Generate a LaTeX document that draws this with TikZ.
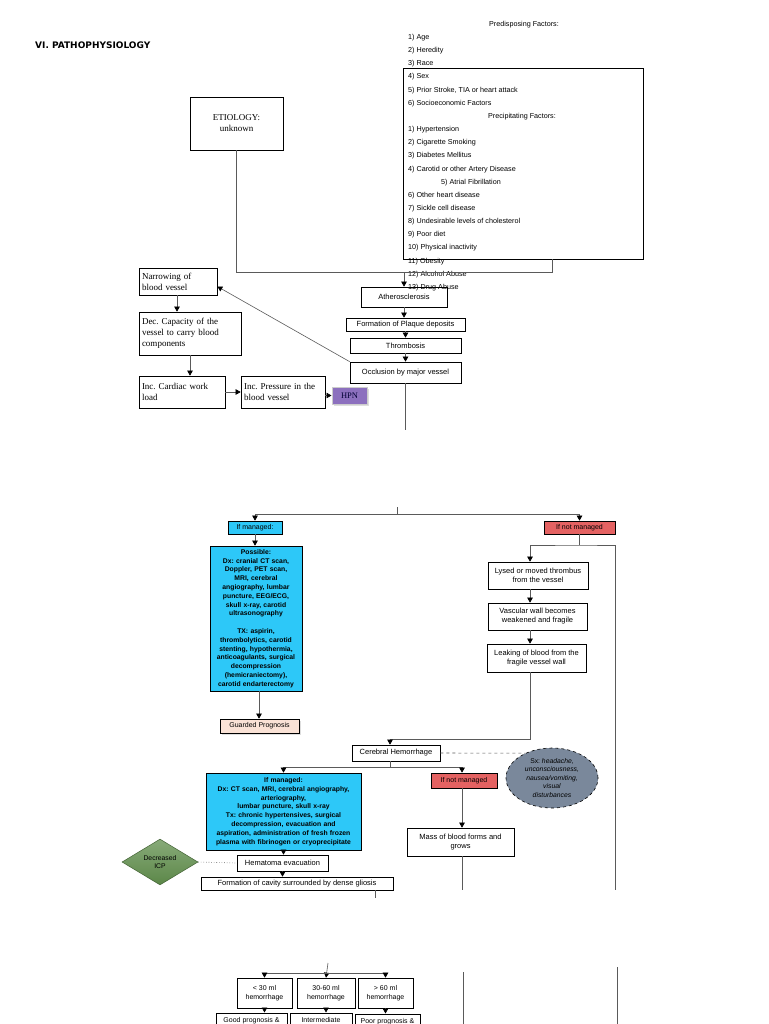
\documentclass[tikz,border=0pt]{standalone}
\usepackage{fontspec}
\setmainfont{Liberation Sans}
\newfontfamily\serifA{Liberation Serif}
\newfontfamily\titlefont{DejaVu Sans}
\usetikzlibrary{arrows.meta,shapes.geometric,shadows}
\definecolor{cyanbox}{RGB}{45,200,248}
\definecolor{redbox}{RGB}{228,98,98}
\definecolor{pinkbox}{RGB}{250,226,214}
\definecolor{sxcol}{RGB}{122,136,155}
\definecolor{dgreen}{RGB}{96,142,76}
\definecolor{hpncol}{RGB}{140,112,190}
\definecolor{lgray}{RGB}{90,90,90}
\frenchspacing
\begin{document}
\begin{tikzpicture}[x=1pt,y=-1pt,
  sbox/.style={draw, line width=0.7pt, inner sep=1pt, align=center, font=\fontsize{7.5}{9}\selectfont},
  tbox/.style={draw, line width=0.7pt, inner sep=3pt, align=left, font=\serifA\fontsize{9}{11}\selectfont},
  lst/.style={anchor=west, inner sep=0pt, font=\fontsize{7.2}{8}\selectfont},
  cline/.style={draw=lgray, line width=0.6pt},
  arr/.style={-{Triangle[width=5.5pt,length=5pt,color=black]}},
  cyanstyle/.style={draw, line width=0.7pt, fill=cyanbox, align=center, inner sep=1pt, font=\bfseries\itshape\fontsize{6.8}{8.8}\selectfont},
  shad/.style={drop shadow={shadow xshift=1.5pt, shadow yshift=-1.5pt, fill=gray!50}}
]
\useasboundingbox (0,0) rectangle (768,1024);
\clip (0,0) rectangle (768,1024);
\fill[white] (0,0) rectangle (768,1024);

% title
\node[anchor=west, inner sep=0pt, font=\titlefont\bfseries\fontsize{9}{10}\selectfont] (title) at (35,45) {VI. PATHOPHYSIOLOGY};

% factors rectangle and list
\node[draw, line width=0.7pt, minimum width=240pt, minimum height=191pt, inner sep=0pt] (fac) at (523,163.5) {};
\node[lst, anchor=center] (p0) at (524,24.5) {Predisposing Factors:};
\node[lst] (p1) at (408,37.65) {1) Age};
\node[lst] (p2) at (408,50.8) {2) Heredity};
\node[lst] (p3) at (408,63.95) {3) Race};
\node[lst] (p4) at (408,77.1) {4) Sex};
\node[lst] (p5) at (408,90.25) {5) Prior Stroke, TIA or heart attack};
\node[lst] (p6) at (408,103.4) {6) Socioeconomic Factors};
\node[lst, anchor=center] (q0) at (522,116.55) {Precipitating Factors:};
\node[lst] (q1) at (408,129.7) {1) Hypertension};
\node[lst] (q2) at (408,142.85) {2) Cigarette Smoking};
\node[lst] (q3) at (408,156.0) {3) Diabetes Mellitus};
\node[lst] (q4) at (408,169.15) {4) Carotid or other Artery Disease};
\node[lst] (q5) at (441,182.3) {5) Atrial Fibrillation};
\node[lst] (q6) at (408,195.45) {6) Other heart disease};
\node[lst] (q7) at (408,208.6) {7) Sickle cell disease};
\node[lst] (q8) at (408,221.75) {8) Undesirable levels of cholesterol};
\node[lst] (q9) at (408,234.9) {9) Poor diet};
\node[lst] (q10) at (408,248.05) {10) Physical inactivity};
\node[lst] (q11) at (408,261.2) {11) Obesity};
\node[lst] (q12) at (408,274.35) {12) Alcohol Abuse};
\node[lst] (q13) at (408,287.5) {13) Drug Abuse};

% etiology
\node[tbox, align=center, minimum width=93pt, minimum height=53pt] (etio) at (236.5,123.5) {ETIOLOGY:\\unknown};

% central chain
\node[sbox, minimum width=86pt, minimum height=20pt] (ath) at (404,297) {Atherosclerosis};
\node[sbox, minimum width=119pt, minimum height=13pt] (plaque) at (405.5,324.5) {Formation of Plaque deposits};
\node[sbox, minimum width=111pt, minimum height=15pt] (thromb) at (405.5,345.5) {Thrombosis};
\node[sbox, minimum width=111pt, minimum height=21pt] (occl) at (405.5,372.5) {Occlusion by major vessel};

% left chain
\node[tbox, text width=72pt, minimum height=27pt] (narrow) at (178,281.5) {Narrowing of\\blood vessel};
\node[tbox, text width=96pt, minimum height=43pt] (deccap) at (190,333.5) {Dec. Capacity of the\\vessel to carry blood\\components};
\node[tbox, text width=80pt, minimum height=32pt] (cardiac) at (182,392) {Inc. Cardiac work\\load};
\node[tbox, text width=78pt, minimum height=32pt] (press) at (283,392) {Inc. Pressure in the\\blood vessel};
\node[draw=gray!40, line width=1pt, fill=hpncol, text=black!80!blue, shad, minimum width=35pt, minimum height=17pt, inner sep=0pt, font=\serifA\fontsize{8.5}{10}\selectfont] (hpn) at (349.5,395.5) {HPN};

% top connectors
\coordinate (j1) at (552,272);
\draw[cline] (etio.south) |- (j1) -- (j1 |- fac.south);
\draw[cline,arr] (ath.north |- j1) -- (ath.north);
\draw[cline,arr] (ath.south) -- (ath.south |- plaque.north);
\draw[cline,arr] (plaque.south -| thromb.north) -- (thromb.north);
\draw[cline,arr] (thromb.south) -- (occl.north);
\draw[cline,arr] (occl.north west) -- ([yshift=-5pt]narrow.east);
\draw[cline,arr] ([xshift=-1pt]narrow.south) -- ([xshift=-1pt]narrow.south |- deccap.north);
\draw[cline,arr] (deccap.south) -- (deccap.south |- cardiac.north);
\draw[cline,arr] (cardiac.east) -- (press.west);
\draw[cline,arr] (press.east |- hpn.west) -- (hpn.west);
\coordinate (oc) at (405.5,430);
\draw[cline] (occl.south) -- (oc);

% second part
\coordinate (tk) at (397,507);
\coordinate (br) at (397,514);
\node[draw, line width=0.7pt, fill=cyanbox, minimum width=54pt, minimum height=13pt, inner sep=0pt, font=\fontsize{7}{8}\selectfont] (im1) at (255,527.5) {If managed:};
\node[draw, line width=0.7pt, fill=redbox, minimum width=71pt, minimum height=13pt, inner sep=0pt, font=\fontsize{7}{8}\selectfont] (inm1) at (579.5,527.5) {If not managed};
\draw[cline] (tk) -- (br);
\draw[cline,arr] (br) -| (im1.north);
\draw[cline,arr] (br) -| (inm1.north);

\node[cyanstyle, minimum width=92pt, minimum height=145pt, text width=90pt] (poss) at (256,618.5) {\upshape Possible:\\
Dx: cranial CT scan,\\ Doppler, PET scan,\\ MRI, cerebral\\ angiography, lumbar\\ puncture, EEG/ECG,\\ skull x-ray, carotid\\ ultrasonography\\[8.8pt]
TX: aspirin,\\ thrombolytics, carotid\\ stenting, hypothermia,\\ anticoagulants, surgical\\ decompression\\ (hemicraniectomy),\\ carotid endarterectomy};
\draw[cline,arr] (im1.south) -- (im1.south |- poss.north);
\node[sbox, fill=pinkbox, shad, minimum width=79pt, minimum height=14pt, font=\fontsize{7}{8}\selectfont] (guard) at (259.5,726) {Guarded Prognosis};
\draw[cline,arr] ([xshift=3pt]poss.south) -- ([xshift=3pt]poss.south |- guard.north);

% right branch
\coordinate (br2) at (579.5,545);
\coordinate (ax) at (530,545);
\coordinate (rl) at (615,890);
\node[sbox, minimum width=100pt, minimum height=27pt] (lysed) at (538,575.5) {Lysed or moved thrombus\\from the vessel};
\node[sbox, minimum width=99pt, minimum height=27pt] (vasc) at (537.5,616.5) {Vascular wall becomes\\weakened and fragile};
\node[sbox, minimum width=99pt, minimum height=28pt] (leak) at (536.5,658) {Leaking of blood from the\\fragile vessel wall};
\draw[cline] (inm1.south) -- (br2);
\draw[cline] (ax) -- (br2) -| (rl);
\draw[cline,arr] (ax) -- (ax |- lysed.north);
\draw[cline,arr] (ax |- lysed.south) -- (ax |- vasc.north);
\draw[cline,arr] (ax |- vasc.south) -- (ax |- leak.north);

\node[sbox, minimum width=88pt, minimum height=16pt] (ceh) at (396,753) {Cerebral Hemorrhage};
\coordinate (j2) at (530,739);
\coordinate (j3) at (390,739);
\draw[cline] (ax |- leak.south) -- (j2) -- (j3);
\draw[cline,arr] (j3) -- (j3 |- ceh.north);

\node[ellipse, draw, dashed, line width=0.6pt, fill=sxcol, minimum width=92pt, minimum height=60pt, inner sep=0pt, align=center, font=\fontsize{6.8}{8.5}\selectfont] (sx) at (552,778) {Sx: \textit{headache,}\\ \textit{unconsciousness,}\\ \textit{nausea/vomiting,}\\ \textit{visual}\\ \textit{disturbances}};
\draw[cline, dashed] (ceh.east) -- (sx.137);

\coordinate (j4) at (390,767);
\node[cyanstyle, minimum width=155pt, minimum height=77pt, text width=153pt] (im2) at (283.5,811.5) {\upshape If managed:\\
Dx: CT scan, MRI, cerebral angiography,\\ arteriography,\\ lumbar puncture, skull x-ray\\ Tx: chronic hypertensives, surgical\\ decompression, evacuation and\\ aspiration, administration of fresh frozen\\ plasma with fibrinogen or cryoprecipitate};
\node[draw, line width=0.7pt, fill=redbox, minimum width=66pt, minimum height=15pt, inner sep=0pt, font=\fontsize{7}{8}\selectfont] (inm2) at (464,780.5) {If not managed};
\draw[cline] (ceh.south -| j4) -- (j4);
\draw[cline,arr] (j4) -| (im2.north);
\draw[cline,arr] (j4) -| ([xshift=-2pt]inm2.north);
\node[sbox, minimum width=107pt, minimum height=28pt] (mass) at (460.5,842) {Mass of blood forms and\\grows};
\draw[cline,arr] ([xshift=-2pt]inm2.south) -- ([xshift=-2pt]inm2.south |- mass.north);
\coordinate (ml) at (462,890);
\draw[cline] (ml |- mass.south) -- (ml);

\node[sbox, minimum width=91pt, minimum height=16pt] (hema) at (282.5,863) {Hematoma evacuation};
\node[sbox, minimum width=192pt, minimum height=13pt] (form) at (297,883.5) {Formation of cavity surrounded by dense gliosis};
\draw[cline,arr] (im2.south) -- (im2.south |- hema.north);
\draw[cline,arr] (hema.south) -- (hema.south |- form.north);
\coordinate (fe) at (375,898);
\draw[cline] (fe |- form.south) -- (fe);

\node[diamond, draw=dgreen!70!black, line width=0.5pt, top color=dgreen!75, bottom color=dgreen!95!black, minimum width=76pt, minimum height=34pt, inner sep=0pt, align=center, font=\fontsize{6.8}{8}\selectfont] (dia) at (160,862) {Decreased\\ICP};
\draw[cline, dotted] (dia.east) -- (hema.west);

% bottom part
\coordinate (bt) at (328,963);
\coordinate (bh) at (328,973);
\node[sbox, minimum width=55pt, minimum height=30pt, font=\fontsize{7}{8.5}\selectfont] (b1) at (264.5,993) {< 30 ml\\hemorrhage};
\node[sbox, minimum width=58pt, minimum height=30pt, font=\fontsize{7}{8.5}\selectfont] (b2) at (326,993) {30-60 ml\\hemorrhage};
\node[sbox, minimum width=55pt, minimum height=30pt, font=\fontsize{7}{8.5}\selectfont] (b3) at (385.5,993) {> 60 ml\\hemorrhage};
\draw[cline,arr] (bt) -- (b2.north);
\draw[cline,arr] (bh) -| (b1.north);
\draw[cline,arr] (bh) -| (b3.north);
\node[sbox, anchor=north, minimum width=71pt, minimum height=26pt, font=\fontsize{7}{8.5}\selectfont] (g1) at (251.5,1012.5) {Good prognosis \&\\ \strut};
\node[sbox, anchor=north, minimum width=62pt, minimum height=26pt, font=\fontsize{7}{8.5}\selectfont] (g2) at (321,1012.5) {Intermediate\\ \strut};
\node[sbox, anchor=north, minimum width=65pt, minimum height=26pt, font=\fontsize{7}{8.5}\selectfont] (g3) at (387.5,1013.5) {Poor prognosis \&\\ \strut};
\draw[cline,arr] (b1.south) -- (b1.south |- g1.north);
\draw[cline,arr] (b2.south) -- (b2.south |- g2.north);
\draw[cline,arr] (b3.south) -- (b3.south |- g3.north);
\coordinate (v1a) at (463,972);
\coordinate (v1b) at (463,1030);
\coordinate (v2a) at (617,967);
\coordinate (v2b) at (617,1030);
\draw[cline] (v1a) -- (v1b);
\draw[cline] (v2a) -- (v2b);
\end{tikzpicture}
\end{document}
